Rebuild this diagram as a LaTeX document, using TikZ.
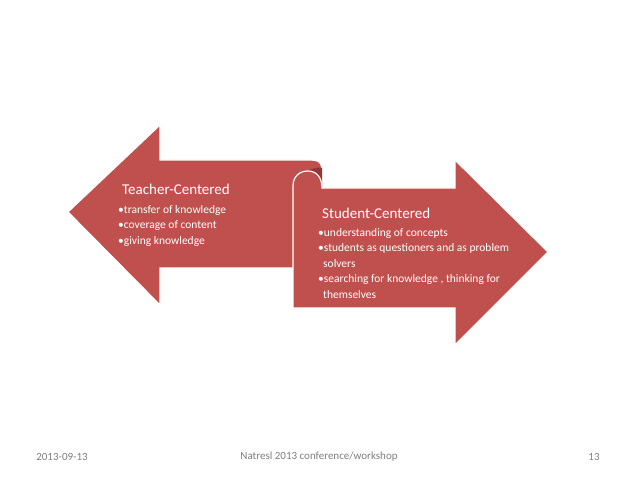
\documentclass[tikz,border=0pt]{standalone}
\usepackage{fontspec}
\setmainfont{Carlito}
\begin{document}
\begin{tikzpicture}[x=1pt,y=-1pt,
 arr/.style={fill=arrred, draw=white, line width=1.2pt},
 ttl/.style={text=white, anchor=west, font=\fontsize{15}{17}\selectfont, inner sep=0},
 itm/.style={text=white, anchor=north west, font=\fontsize{11.5}{15.5}\selectfont, inner sep=0, align=left},
 foot/.style={text=gray, font=\fontsize{11}{13}\selectfont, inner sep=0}]
\definecolor{arrred}{HTML}{C0504D}
\definecolor{darkred}{HTML}{8E3B38}
\useasboundingbox (0,0) rectangle (638,478);
\fill[white] (0,0) rectangle (638,478);
% left arrow
\draw[arr] (68,212) -- (160,125) -- (160,160) -- (310,160) .. controls (322,160) and (322,165) .. (322,175) -- (322,268) -- (160,268) -- (160,305) -- cycle;
% curl shadow
\fill[darkred] (296,186) .. controls (300,172) and (314,166) .. (322,168) -- (322,190) -- cycle;
% right arrow
\draw[arr] (293,308) -- (293,186) .. controls (293,176) and (300,171) .. (308,171) .. controls (317,171) and (322,178) .. (322,188) -- (455,188) -- (455,160) -- (548,252) -- (455,345) -- (455,308) -- cycle;
\node[ttl] (t1) at (122,189) {Teacher-Centered};
\node[itm] (l1) at (118,205) {•transfer of knowledge\\•coverage of content\\•giving knowledge};
\node[ttl] (t2) at (322,213) {Student-Centered};
\node[itm] (l2) at (318,228) {•understanding of concepts\\•students as questioners and as problem\\\hspace*{5pt}solvers\\•searching for knowledge , thinking for\\\hspace*{5pt}themselves};
\node[foot] (f1) at (62,457) {2013-09-13};
\node[foot] (f2) at (319,457) {Natresl 2013 conference/workshop};
\node[foot] (f3) at (594,457) {13};
\end{tikzpicture}
\end{document}
